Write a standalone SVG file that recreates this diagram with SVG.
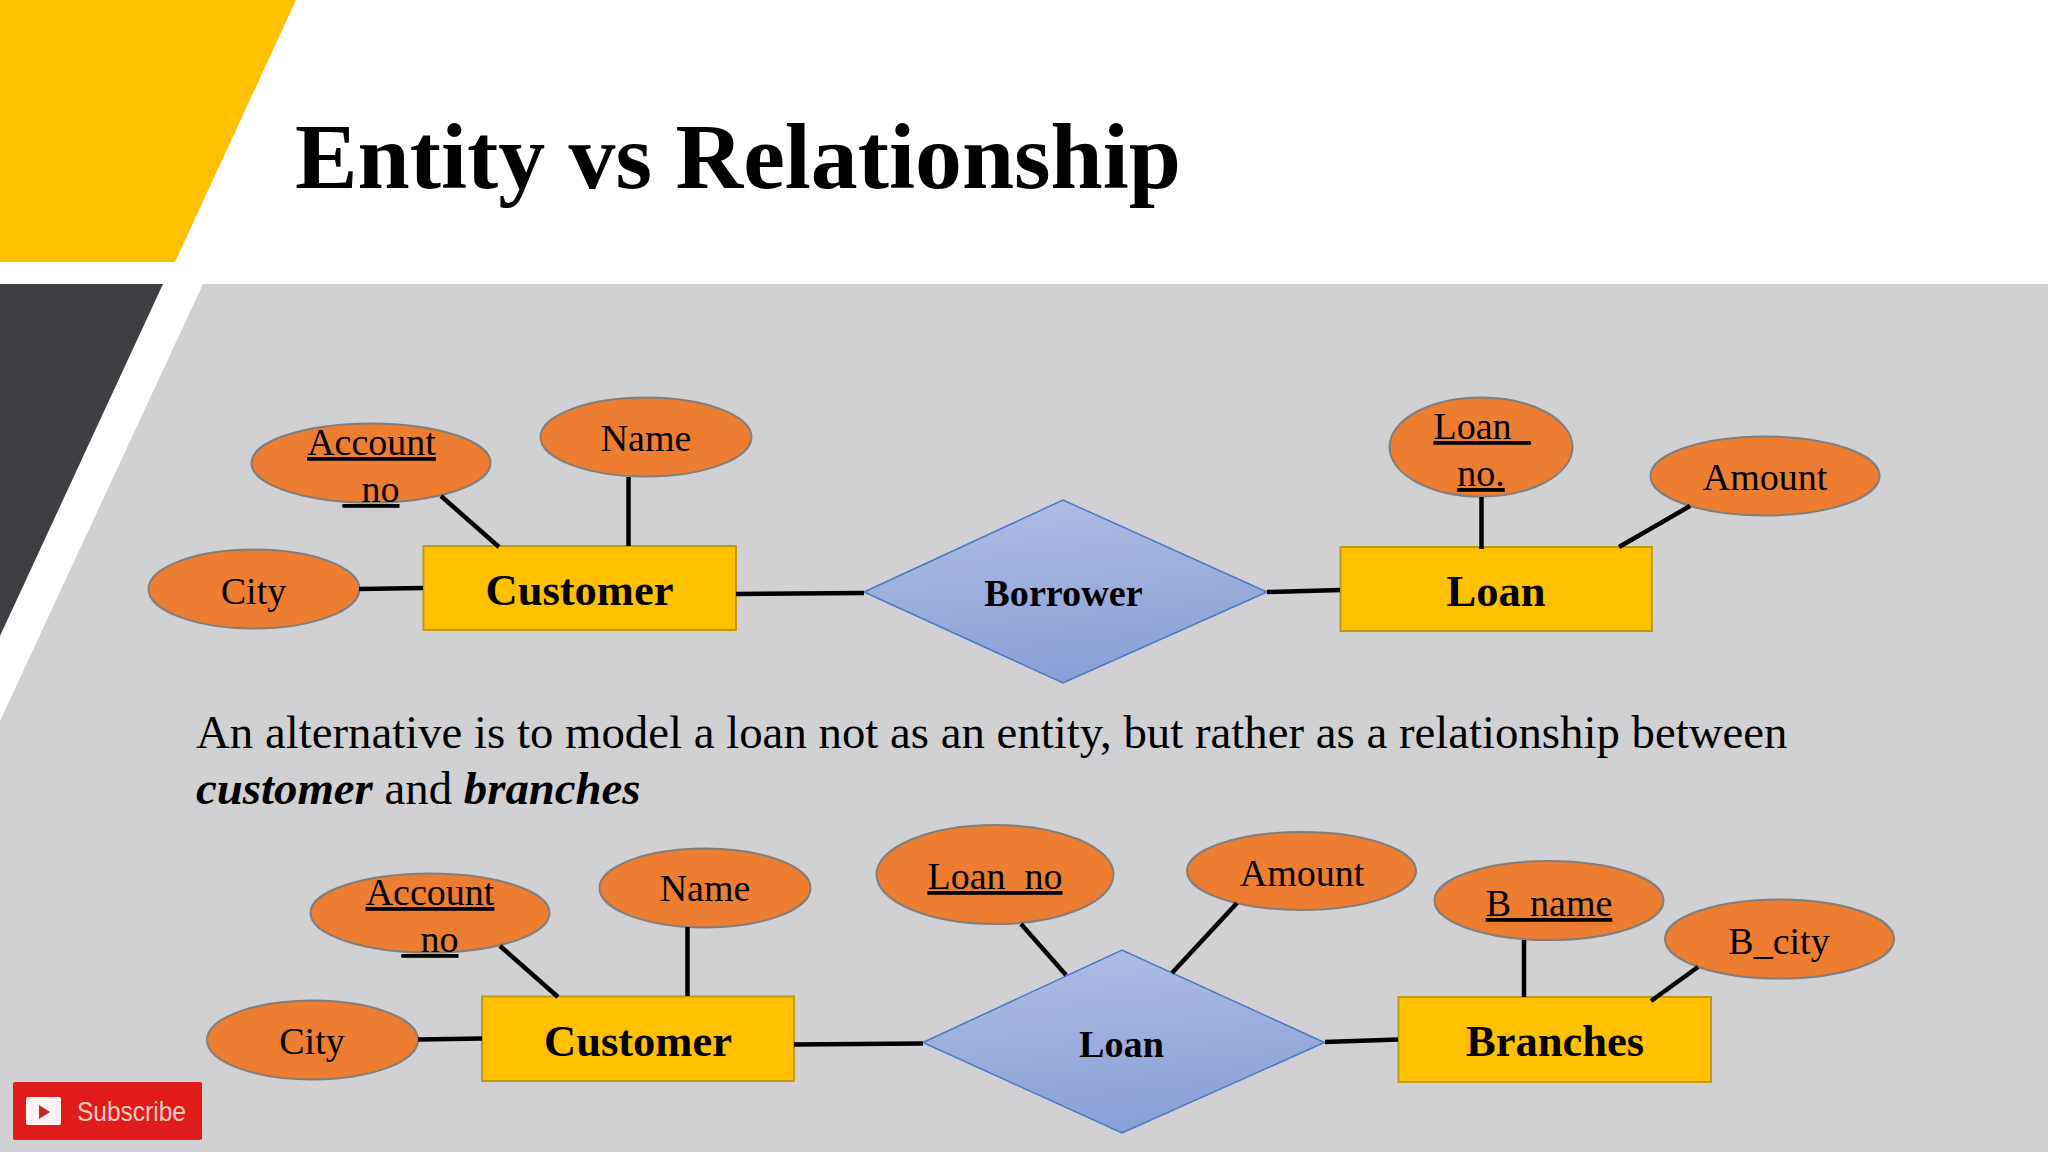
<svg xmlns="http://www.w3.org/2000/svg" width="2048" height="1152" viewBox="0 0 2048 1152">
<defs>
<linearGradient id="dg" x1="0.35" y1="0" x2="0.55" y2="1"><stop offset="0" stop-color="#aebde4"/><stop offset="1" stop-color="#889ed6"/></linearGradient>
</defs>
<style>
text{font-family:"Liberation Serif","Times New Roman",serif;fill:#000;text-anchor:middle}
.e{fill:#ed7d31;stroke:#7f7f7f;stroke-width:2}
.r{fill:#ffc000;stroke:#bf9a1a;stroke-width:2}
.d{fill:url(#dg);stroke:#4a76c6;stroke-width:1.5}
.a{font-size:38px}
.u{text-decoration:underline;text-decoration-thickness:1.8px;text-underline-offset:3px;text-decoration-skip-ink:none}
.n{font-size:44.5px;font-weight:bold}
.m{font-size:38.2px;font-weight:bold}
.c line{stroke:#000;stroke-width:4.5}
.b{font-size:46.8px;text-anchor:start}
</style>
<rect width="2048" height="1152" fill="#fff"/>
<polygon points="0,0 296,0 175,262 0,262" fill="#ffc000"/>
<polygon points="203,284 2048,284 2048,1152 0,1152 0,721" fill="#d1d1d3"/>
<polygon points="0,284 163,284 0,636" fill="#403e42"/>
<text id="title" x="738" y="188" font-size="93.800" font-weight="bold">Entity vs Relationship</text>
<text class="b" x="196" y="748">An alternative is to model a loan not as an entity, but rather as a relationship between</text>
<text class="b" x="196" y="804"><tspan font-weight="bold" font-style="italic">customer</tspan> and <tspan font-weight="bold" font-style="italic">branches</tspan></text>

<g id="top-account"><ellipse class="e" cx="371" cy="463" rx="119.500" ry="39.500"/><text class="a u" x="371.500" y="455">Account</text><text class="a u" x="371" y="502">_no</text></g>
<g id="top-name"><ellipse class="e" cx="646" cy="437" rx="105.500" ry="39.500"/><text class="a" x="646" y="451">Name</text></g>
<g id="top-city"><ellipse class="e" cx="254" cy="589" rx="105.500" ry="39.500"/><text class="a" x="253.500" y="604">City</text></g>
<g id="top-customer"><rect class="r" x="423.500" y="546" width="312.500" height="84"/><text class="n" x="579.500" y="605">Customer</text></g>
<g id="top-borrower"><polygon class="d" points="864,592 1063,500 1267,592 1063,683"/><text class="m" x="1063.500" y="606">Borrower</text></g>
<g id="top-loan"><rect class="r" x="1340.500" y="547" width="311.500" height="84"/><text class="n" x="1496" y="606">Loan</text></g>
<g id="top-loan-no"><ellipse class="e" cx="1481" cy="447" rx="91.500" ry="49.500"/><text class="a u" x="1482" y="439">Loan_</text><text class="a u" x="1481" y="486">no.</text></g>
<g id="top-amount"><ellipse class="e" cx="1765" cy="476" rx="114.500" ry="39.500"/><text class="a" x="1765" y="490">Amount</text></g>

<g id="bot-account"><ellipse class="e" cx="430" cy="913" rx="119.500" ry="39.500"/><text class="a u" x="430" y="905">Account</text><text class="a u" x="430" y="952">_no</text></g>
<g id="bot-name"><ellipse class="e" cx="705" cy="888" rx="105.500" ry="39.500"/><text class="a" x="705" y="901">Name</text></g>
<g id="bot-city"><ellipse class="e" cx="312.500" cy="1040" rx="105.500" ry="39.500"/><text class="a" x="312" y="1054">City</text></g>
<g id="bot-customer"><rect class="r" x="482" y="996.500" width="312" height="84.500"/><text class="n" x="638" y="1056">Customer</text></g>
<g id="bot-loan"><polygon class="d" points="923,1042.500 1122,950 1324.500,1042.500 1122,1133"/><text class="m" x="1121.500" y="1057">Loan</text></g>
<g id="bot-branches"><rect class="r" x="1398.500" y="997" width="312.500" height="85"/><text class="n" x="1555" y="1056">Branches</text></g>
<g id="bot-loan-no"><ellipse class="e" cx="995" cy="874.500" rx="118.500" ry="49.500"/><text class="a u" x="995" y="889">Loan_no</text></g>
<g id="bot-amount"><ellipse class="e" cx="1301.500" cy="871" rx="114.500" ry="39"/><text class="a" x="1302" y="886">Amount</text></g>
<g id="bot-b-name"><ellipse class="e" cx="1549" cy="900.500" rx="114.500" ry="39.500"/><text class="a u" x="1549" y="916">B_name</text></g>
<g id="bot-b-city"><ellipse class="e" cx="1779.500" cy="939" rx="114.500" ry="39.500"/><text class="a" x="1779" y="954">B_city</text></g>

<g id="connectors" class="c">
<line x1="441" y1="496" x2="499" y2="547"/>
<line x1="628.500" y1="477" x2="628.500" y2="546"/>
<line x1="359" y1="589" x2="423" y2="588"/>
<line x1="736" y1="594" x2="864" y2="593"/>
<line x1="1267" y1="592" x2="1340" y2="590"/>
<line x1="1481.500" y1="497" x2="1481.500" y2="549"/>
<line x1="1690" y1="506" x2="1619" y2="547"/>
<line x1="500" y1="946" x2="558" y2="997"/>
<line x1="687.500" y1="927" x2="687.500" y2="996"/>
<line x1="418" y1="1039.500" x2="482" y2="1038.500"/>
<line x1="794" y1="1044.500" x2="923" y2="1043.500"/>
<line x1="1325" y1="1042" x2="1398" y2="1039.500"/>
<line x1="1021" y1="924" x2="1066" y2="975"/>
<line x1="1237" y1="903" x2="1172" y2="973"/>
<line x1="1524" y1="940" x2="1524" y2="997"/>
<line x1="1698" y1="967" x2="1651" y2="1001"/>
</g>

<g id="subscribe">
<rect x="13" y="1082" width="189" height="58" rx="2" fill="#e01b1b"/>
<rect x="26" y="1097" width="35" height="28" rx="2" fill="#fdf3f0"/>
<polygon points="39,1105 50,1112 39,1119" fill="#c4282a"/>
<text x="131.500" y="1121" font-size="27" textLength="109" lengthAdjust="spacingAndGlyphs" style="font-family:'Liberation Sans',Arial,sans-serif;fill:#fbcabb">Subscribe</text>
</g>
</svg>
